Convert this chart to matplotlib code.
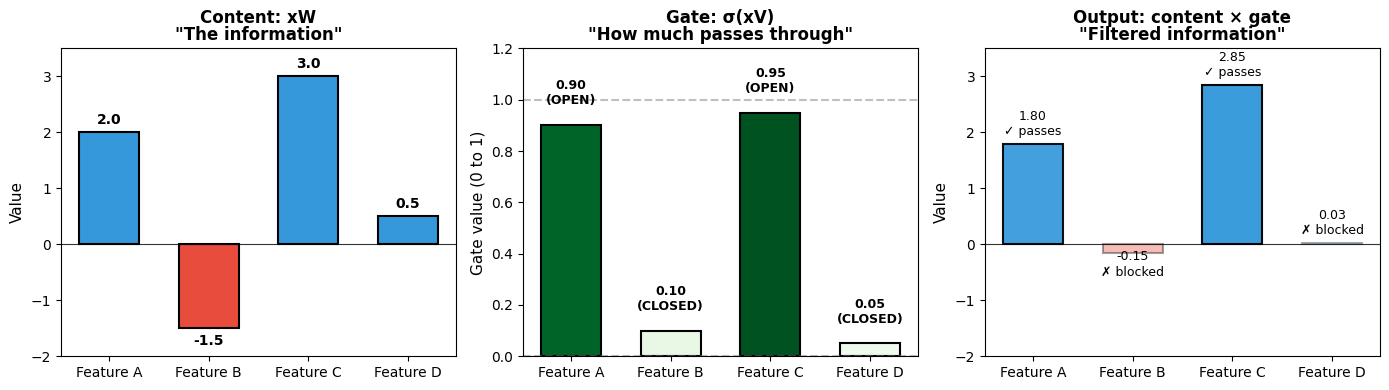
import matplotlib
matplotlib.use("Agg")
import matplotlib.pyplot as plt
import numpy as np

features = ["Feature A", "Feature B", "Feature C", "Feature D"]
content = [2.0, -1.5, 3.0, 0.5]
gate = [0.90, 0.10, 0.95, 0.05]
gate_state = ["OPEN", "CLOSED", "OPEN", "CLOSED"]
output = [c * g for c, g in zip(content, gate)]
output_state = ["\u2713 passes", "\u2717 blocked", "\u2713 passes", "\u2717 blocked"]

BLUE = "#3498db"
RED = "#e74c3c"

fig, axes = plt.subplots(1, 3, figsize=(13.89, 3.9), dpi=100)
fig.subplots_adjust(left=0.0439, right=0.9935, bottom=0.0864, top=0.876, wspace=0.1696)
x = np.arange(len(features))
title_kw = dict(fontsize=12, fontweight="bold", linespacing=0.95)

# Panel 1: content
ax = axes[0]
cols = [BLUE if v >= 0 else RED for v in content]
ax.bar(x, content, width=0.6, color=cols, edgecolor="black", linewidth=1.5)
ax.axhline(0, color="black", linewidth=0.8, alpha=0.8)
for xi, v in zip(x, content):
    if v >= 0:
        ax.text(xi, v + 0.1, f"{v:.1f}", ha="center", va="bottom", fontsize=10, fontweight="bold")
    else:
        ax.text(xi, v - 0.1, f"{v:.1f}", ha="center", va="top", fontsize=10, fontweight="bold")
ax.set_xticks(x)
ax.set_xticklabels(features)
ax.set_ylim(-2, 3.5)
ax.set_ylabel("Value", fontsize=11)
ax.set_title('Content: xW\n"The information"', **title_kw)

# Panel 2: gate
ax = axes[1]
gcols = [plt.cm.Greens(g) for g in gate]
ax.bar(x, gate, width=0.6, color=gcols, edgecolor="black", linewidth=1.5)
ax.axhline(1.0, color="gray", linestyle="--", alpha=0.5)
ax.axhline(0.0, color="gray", linestyle="--", alpha=0.5)
for xi, g, s in zip(x, gate, gate_state):
    ax.text(xi, g + 0.07, f"{g:.2f}\n({s})", ha="center", va="bottom", fontsize=9, fontweight="bold")
ax.set_xticks(x)
ax.set_xticklabels(features)
ax.set_ylim(0, 1.2)
ax.set_ylabel("Gate value (0 to 1)", fontsize=11)
ax.set_title('Gate: \u03c3(xV)\n"How much passes through"', **title_kw)

# Panel 3: output
ax = axes[2]
for xi, o, c, g in zip(x, output, content, gate):
    ax.bar(xi, o, width=0.6, color=BLUE if c >= 0 else RED, edgecolor="black",
           linewidth=1.5, alpha=0.3 + 0.7 * g)
ax.axhline(0, color="black", linewidth=0.8, alpha=0.8)
for xi, o, s in zip(x, output, output_state):
    if o >= 0:
        ax.text(xi, o + 0.1, f"{o:.2f}\n{s}", ha="center", va="bottom", fontsize=9)
    else:
        ax.text(xi, o + 0.04, f"{o:.2f}\n{s}", ha="center", va="top", fontsize=9)
ax.set_xticks(x)
ax.set_xticklabels(features)
ax.set_ylim(-2, 3.5)
ax.set_ylabel("Value", fontsize=11)
ax.set_title('Output: content \u00d7 gate\n"Filtered information"', **title_kw)

plt.savefig("out.png", dpi=100)
